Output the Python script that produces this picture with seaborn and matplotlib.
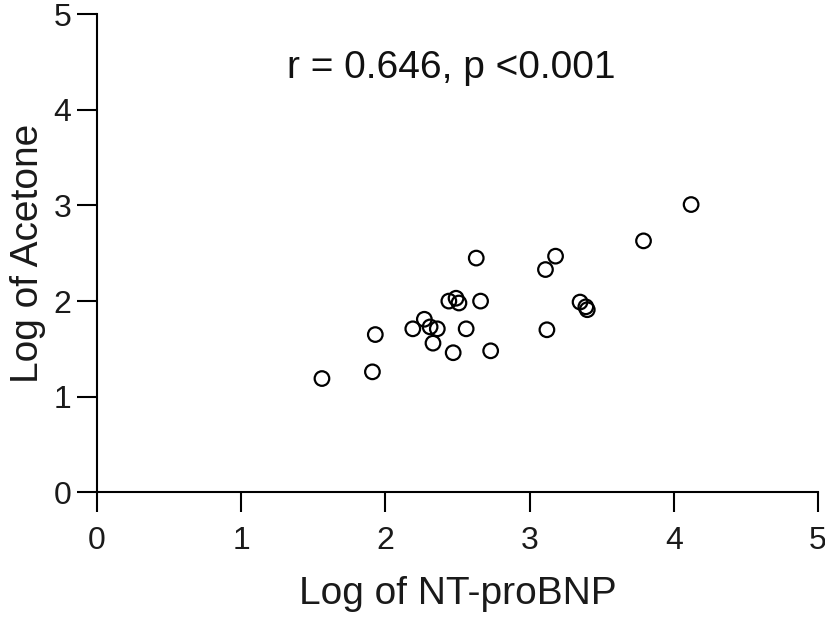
import matplotlib
matplotlib.use("Agg")
import matplotlib.pyplot as plt
import seaborn as sns
import pandas as pd

nt_probnp = [1.56, 1.91, 1.93, 2.19, 2.27, 2.31, 2.36, 2.33, 2.47, 2.44, 2.49, 2.51,
             2.56, 2.63, 2.66, 2.73, 3.11, 3.18, 3.12, 3.35, 3.39, 3.40, 3.79, 4.12]
acetone = [1.19, 1.26, 1.65, 1.71, 1.81, 1.73, 1.71, 1.56, 1.46, 2.00, 2.03, 1.98,
           1.71, 2.45, 2.00, 1.48, 2.33, 2.47, 1.70, 1.99, 1.94, 1.91, 2.63, 3.01]
ticks = [0, 1, 2, 3, 4, 5]
annotation = "r = 0.646, p <0.001"

sns.set_style("ticks")
plt.rcParams['font.family'] = ['Liberation Sans', 'DejaVu Sans']

df = pd.DataFrame({"x": nt_probnp, "y": acetone})

fig = plt.figure(figsize=(8.25, 6.17), dpi=100)
ax = fig.add_axes([97/825, 1 - 492.3/617, (818 - 97)/825, (492.3 - 14.3)/617])

sns.scatterplot(data=df, x="x", y="y", ax=ax, s=110, facecolors="none",
                edgecolor="black", linewidth=1.6, zorder=3)

ax.set_xlim(0, 5)
ax.set_ylim(0, 5)
ax.set_xticks(ticks)
ax.set_yticks(ticks)
ax.set_xticklabels([str(t) for t in ticks])
ax.set_yticklabels([str(t) for t in ticks])
ax.tick_params(axis="both", length=14.5, width=1.5, labelsize=23, color="black",
               labelcolor="#1a1a1a")
ax.tick_params(axis="x", pad=10)
ax.tick_params(axis="y", pad=4)
for side in ["top", "right"]:
    ax.spines[side].set_visible(False)
for side in ["left", "bottom"]:
    ax.spines[side].set_linewidth(1.5)
    ax.spines[side].set_color("black")

ax.set_xlabel("Log of NT-proBNP", fontsize=28, color="#1a1a1a", labelpad=14)
ax.set_ylabel("Log of Acetone", fontsize=28, color="#1a1a1a", labelpad=5)
ax.text(2.46, 4.44, annotation, ha="center", va="center", fontsize=28, color="#111111")

fig.savefig("out.png", dpi=100)
